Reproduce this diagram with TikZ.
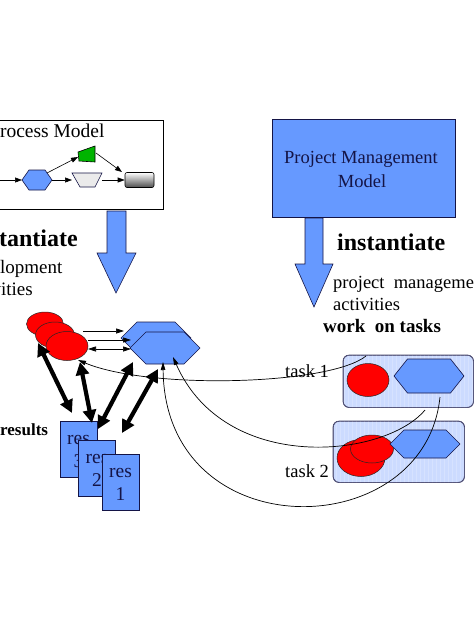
\documentclass[tikz,border=0pt]{standalone}
\usepackage{fontspec}
\setmainfont{Liberation Serif}
\usetikzlibrary{shapes.geometric,arrows.meta}
\definecolor{bfill}{RGB}{102,153,255}
\definecolor{tfill}{RGB}{204,219,255}
\definecolor{navy}{RGB}{20,20,70}
\definecolor{gfill}{RGB}{0,180,0}
\newcommand\myhex[6]{\draw[#6] (#1-#3,#2) -- (#1-#4,#2-#5) -- (#1+#4,#2-#5) -- (#1+#3,#2) -- (#1+#4,#2+#5) -- (#1-#4,#2+#5) -- cycle;}
\newcommand\fs[1]{\fontsize{#1}{#1}\selectfont}
\begin{document}
\begin{tikzpicture}[x=1pt,y=-1pt,
  blueshape/.style={draw=navy, fill=bfill, line width=0.6pt},
  redell/.style={ellipse, draw=black!85, fill=red, line width=0.5pt, inner sep=0pt},
  resbox/.style={draw=navy, fill=bfill, line width=0.6pt, minimum width=37pt, minimum height=56pt, inner sep=0pt, anchor=north west},
  restext/.style={anchor=base, text=navy, font=\fs{19.5}, inner sep=0pt},
  thinarr/.style={-{Triangle[length=8pt,width=5pt]}, line width=0.6pt},
  twoarr/.style={{Triangle[length=8pt,width=5pt]}-{Triangle[length=8pt,width=5pt]}, line width=0.6pt},
  thickarr/.style={{Triangle[length=13pt,width=13pt]}-{Triangle[length=13pt,width=13pt]}, line width=4.2pt},
  curvearr/.style={-{Triangle[length=8pt,width=4.5pt]}, line width=0.7pt},
  pmarr/.style={-{Triangle[length=7pt,width=5pt]}, line width=0.6pt},
  taskbox/.style={draw=navy!80, fill=tfill, rounded corners=6pt, line width=0.6pt, anchor=north west, inner sep=0pt},
  gridln/.style={white, line width=0.3pt, opacity=0.2},
  txt/.style={anchor=base west, font=\fs{18.5}, inner sep=0pt}
]
\useasboundingbox (0,0) rectangle (474,625);
\fill[white] (0,0) rectangle (474,625);

% ---------------- Process model box
\node[draw, line width=0.8pt, fill=white, minimum width=168pt, minimum height=89pt, anchor=north west, inner sep=0pt] (pmbox) at (-5,120) {};
\node[txt, font=\fs{19.5}] (pmtitle) at (-11,137) {Process Model};
\coordinate (pin) at (-5,180);
\myhex{37}{180}{15}{8}{10}{blueshape}
\draw[draw=navy, fill=black!8, line width=0.6pt] (72,173) -- (102,173) -- (95,187) -- (80,187) -- cycle;
\draw[draw=black, fill=gfill, line width=0.6pt] (78,152) -- (95,146) -- (95,162) -- (79,161) -- cycle;
\node[draw, rounded corners=2pt, minimum width=29pt, minimum height=15pt, inner sep=0pt, top color=white, bottom color=black!70, line width=0.6pt] (pend) at (139.5,180) {};
\coordinate (phl) at (22,180);
\coordinate (phr) at (52,180);
\coordinate (phu) at (47,173);
\coordinate (ptl) at (72,180);
\coordinate (ptr) at (102,180);
\coordinate (pgl) at (78,157);
\coordinate (pgr) at (96,153);
\coordinate (pet) at (122,172);
\draw[pmarr] (pin) -- (phl);
\draw[pmarr] (phr) -- (ptl);
\draw[pmarr] (ptr) -- (pend.west);
\draw[pmarr] (phu) -- (pgl);
\draw[pmarr] (pgr) -- (pet);

% ---------------- left block arrow
\draw[blueshape] (107,211) -- (126,211) -- (126,253) -- (136,253) -- (116,293) -- (97,253) -- (107,253) -- cycle;
\node[anchor=base east, inner sep=0pt, font=\bfseries\fs{24}] (instL) at (78,246) {instantiate};
\node[txt, font=\fs{19}] (devL) at (-36,273) {development};
\node[txt, font=\fs{19}] (actL) at (-36,295) {activities};

% ---------------- Project management model
\node[blueshape, minimum width=183pt, minimum height=98pt, anchor=north west, inner sep=0pt] (pmm) at (272,119) {};
\node[anchor=base, text=navy, font=\fs{18.5}] (pmm1) at (361,163) {Project Management};
\node[anchor=base, text=navy, font=\fs{18.5}] (pmm2) at (362,187) {Model};
\draw[blueshape] (305,218) -- (323,218) -- (323,264) -- (333,264) -- (314,307) -- (295,264) -- (305,264) -- cycle;
\node[txt, font=\bfseries\fs{24}] (instR) at (337,250) {instantiate};
\node[txt] (pmact1) at (333,288) {project\ \ management};
\node[txt] (pmact2) at (333,310) {activities};
\node[txt, font=\bfseries\fs{19}] (wot) at (323,332) {work\ \ on tasks};

% ---------------- red ellipses and hexagons
\node[redell, minimum width=37pt, minimum height=24pt] (e1) at (45,324) {};
\node[redell, minimum width=39pt, minimum height=26pt] (e2) at (55,335) {};
\node[redell, minimum width=42pt, minimum height=29pt] (e3) at (67,346) {};
\myhex{156}{338}{35}{19}{16}{blueshape}
\myhex{165}{348}{35}{19}{16}{blueshape}

\coordinate (a1s) at (83,331);  \coordinate (a1e) at (124,331);
\coordinate (a2s) at (88,340);  \coordinate (a2e) at (131,340);
\coordinate (a3s) at (88,349);  \coordinate (a3e) at (131,349);
\draw[thinarr] (a1s) -- (a1e);
\draw[thinarr] (a2s) -- (a2e);
\draw[twoarr] (a3s) -- (a3e);

% ---------------- result boxes
\node[resbox] (r3) at (60,421) {};
\node[restext] at (78.5,444) {res};
\node[restext] at (78.5,467) {3};
\node[resbox] (r2) at (78,440) {};
\node[restext] at (97,463) {res};
\node[restext] at (97,486) {2};
\node[resbox] (r1) at (102,454) {};
\node[restext] at (120.5,477) {res};
\node[restext] at (120.5,500) {1};
\node[txt, font=\bfseries\fs{17}] (res) at (0,435) {results};

\coordinate (k1s) at (38,343);  \coordinate (k1e) at (72,413);
\coordinate (k2s) at (80,362);  \coordinate (k2e) at (92,423);
\coordinate (k3s) at (133,362); \coordinate (k3e) at (98,429);
\coordinate (k4s) at (158,369); \coordinate (k4e) at (122,433);
\draw[thickarr] (k1s) -- (k1e);
\draw[thickarr] (k2s) -- (k2e);
\draw[thickarr] (k3s) -- (k3e);
\draw[thickarr] (k4s) -- (k4e);

% ---------------- tasks
\node[taskbox, minimum width=130pt, minimum height=52pt] (task1box) at (343,355) {};
\begin{scope}
  \clip[rounded corners=6pt] (task1box.north west) rectangle (task1box.south east);
  \draw[gridln, step=4] (task1box.north west) grid (task1box.south east);
\end{scope}
\draw[navy!80, rounded corners=6pt, line width=0.6pt] (task1box.north west) rectangle (task1box.south east);
\node[redell, minimum width=42pt, minimum height=33pt] (t1e) at (368,380) {};
\myhex{429}{376}{35}{21.5}{17}{blueshape}
\node[txt] (t1lab) at (285,377) {task 1};

\node[taskbox, minimum width=131pt, minimum height=61pt] (task2box) at (333,421) {};
\begin{scope}
  \clip[rounded corners=6pt] (task2box.north west) rectangle (task2box.south east);
  \draw[gridln, step=4] (task2box.north west) grid (task2box.south east);
\end{scope}
\draw[navy!80, rounded corners=6pt, line width=0.6pt] (task2box.north west) rectangle (task2box.south east);
\node[redell, minimum width=48pt, minimum height=37pt] (t2e1) at (361,458) {};
\node[redell, minimum width=43pt, minimum height=28pt] (t2e2) at (372,449) {};
\myhex{425}{444}{35}{21}{14}{blueshape}
\node[txt] (t2lab) at (285,477) {task 2};

% ---------------- curved connectors
\coordinate (ca1) at (366,356);
\coordinate (ca2) at (78,360);
\coordinate (cc1) at (425,410);
\coordinate (cc2) at (173,357);
\coordinate (cd1) at (440,397);
\coordinate (cd2) at (163,362);
\draw[curvearr] (ca1) .. controls (330,385) and (150,390) .. (ca2);
\draw[curvearr] (cc1) .. controls (385,458) and (225,475) .. (cc2);
\draw[curvearr] (cd1) .. controls (425,545) and (165,550) .. (cd2);
\end{tikzpicture}
\end{document}
